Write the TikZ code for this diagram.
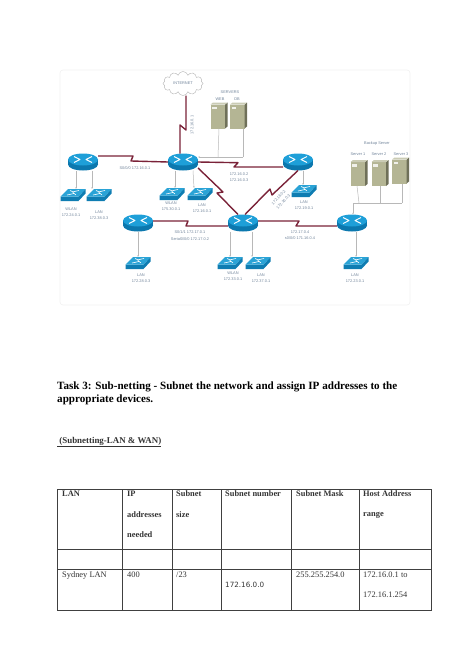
\documentclass[tikz,border=0pt]{standalone}
\usepackage{fontspec}
\setmainfont{Liberation Serif}
\setsansfont{Liberation Sans}
\newfontfamily\dvfont{DejaVu Sans}
\usetikzlibrary{positioning,arrows.meta,calc,shapes.symbols}

\definecolor{rtrtop}{HTML}{1E9FD8}
\definecolor{rtrbase}{HTML}{0C78AE}
\definecolor{swttop}{HTML}{2AA3D6}
\definecolor{swtbase}{HTML}{0F7DB2}
\definecolor{srvfront}{HTML}{B4B594}
\definecolor{srvside}{HTML}{6F7059}
\definecolor{wancol}{HTML}{7A2238}
\definecolor{lblcol}{HTML}{71849A}

\begin{document}
\begin{tikzpicture}[
  x=1pt, y=-1pt,
  lbl/.style={font=\sffamily\fontsize{3.9}{6.3}\selectfont, text=lblcol, inner sep=0pt, align=center},
  head/.style={font=\bfseries\fontsize{11.1}{13}\selectfont, anchor=north west, inner sep=0pt, align=left},
  cell/.style={font=\fontsize{8.4}{10}\selectfont, text=black!80, anchor=west, inner sep=0pt},
  cellb/.style={cell, font=\bfseries\fontsize{8.4}{10}\selectfont},
  wanedge/.style={draw=wancol, line width=1.4pt, line join=round},
  lanedge/.style={draw=black!28, line width=0.5pt},
  lantip/.style={lanedge, -{Latex[length=1.6pt,width=1.6pt]}},
  tabline/.style={draw=black!75, line width=1pt},
  cld/.style={cloud, cloud puffs=12, aspect=1.8, draw=black!30, line width=0.4pt, inner sep=0pt,
    minimum width=40pt, minimum height=24pt, font=\sffamily\fontsize{3.9}{5}\selectfont, text=lblcol},
  rtr/.style={minimum width=30pt, minimum height=17pt, inner sep=0pt, outer sep=0pt, path picture={
    \begin{scope}[shift={(path picture bounding box.center)}]
      \fill[rtrbase] (0,2.5) ellipse [x radius=15, y radius=6];
      \fill[rtrbase] (-15,-2.5) rectangle (15,2.5);
      \fill[rtrtop] (0,-2.5) ellipse [x radius=15, y radius=6];
      \draw[white, line width=0.9pt, line join=round] (-9,-5.5) -- (-3,-2.5) -- (-9,0.5);
      \draw[white, line width=0.9pt, line join=round] (9,-5.5) -- (3,-2.5) -- (9,0.5);
    \end{scope}}},
  swt/.style={minimum width=25pt, minimum height=12pt, inner sep=0pt, outer sep=0pt, path picture={
    \begin{scope}[shift={(path picture bounding box.center)}]
      \fill[swtbase] (-12.5,1.5) -- (5.5,1.5) -- (12.5,-6) -- (12.5,-1.5) -- (5.5,6) -- (-12.5,6) -- cycle;
      \fill[swttop] (-12.5,1.5) -- (-5,-6) -- (12.5,-6) -- (5.5,1.5) -- cycle;
      \draw[white, line width=0.6pt] (-6,0) -- (1,-1.5) (6,-4.5) -- (-1,-3) (-3,-4.5) -- (0,-3.2) (3,0) -- (0,-2.5);
    \end{scope}}},
  srv/.style={minimum width=17pt, minimum height=26pt, inner sep=0pt, outer sep=0pt, path picture={
    \begin{scope}[shift={(path picture bounding box.center)}]
      \fill[srvfront] (-8.5,-11) rectangle (6,13);
      \fill[srvside] (6,-11) -- (8.5,-13) -- (8.5,11) -- (6,13) -- cycle;
      \fill[srvfront!70!white] (-8.5,-11) -- (-6,-13) -- (8.5,-13) -- (6,-11) -- cycle;
      \fill[white!80!srvfront] (-7,-9) rectangle (-2.5,-6.5);
    \end{scope}}}
]
\useasboundingbox (0,0) rectangle (474,669);

% panel round the network
\draw[black!6, line width=0.6pt, rounded corners=3pt] (60,70) rectangle (410,305);

% devices
\node[cld] (inet) at (183,83.5) {INTERNET};
\node[rtr] (rbris) at (83,162) {};
\node[rtr] (rsyd) at (183,162) {};
\node[rtr] (rtop) at (298,162) {};
\node[rtr] (rleft) at (138,223) {};
\node[rtr] (rctr) at (243,223) {};
\node[rtr] (rback) at (352,223) {};
\node[swt] (swa) at (73,195) {};
\node[swt] (swb) at (99,195) {};
\node[swt] (swc) at (172,194) {};
\node[swt] (swd) at (200,194) {};
\node[swt] (swe) at (304,191) {};
\node[swt] (swf) at (138,263) {};
\node[swt] (swg) at (230,263) {};
\node[swt] (swh) at (258,263) {};
\node[swt] (swi) at (356,263) {};
\node[srv] (srvweb) at (219,115.5) {};
\node[srv] (srvdb) at (238.5,115.5) {};
\node[srv] (srvone) at (359,173) {};
\node[srv] (srvtwo) at (380,173) {};
\node[srv] (srvthree) at (400.5,170.5) {};
\coordinate (busweb) at (218,157);
\coordinate (busdb) at (243,157);
\coordinate (busback) at (353,203);
\coordinate (busend) at (402,203);

% serial links
\draw[wanedge] ([xshift=3pt]inet.south) -- (186,130) -- (180,125) -- ([xshift=-3pt]rsyd.north);
\draw[wanedge] ([yshift=6pt]rbris.east) -- (133,156) -- (131,161) -- (rsyd.west);
\draw[wanedge] (rsyd.east) -- (238,162.7) -- (234,167) -- ([yshift=-5pt]rtop.west);
\draw[wanedge] ([yshift=2.5pt]rsyd.south east) -- (223,192) -- (217,193) -- ([xshift=-5pt]rctr.north);
\draw[wanedge] (rtop.south) -- (272,195) -- (270,189) -- ([xshift=2pt]rctr.north);
\draw[wanedge] ([yshift=2pt]rleft.east) -- (188,221) -- (186,226) -- ([yshift=-3pt]rctr.west);
\draw[wanedge] ([yshift=2pt]rctr.east) -- (299,221) -- (296,226) -- ([yshift=-3pt]rback.west);

% ethernet links
\draw[lantip] ([xshift=-7pt]rbris.south) -- ([xshift=3pt]swa.north);
\draw[lantip] ([xshift=9pt]rbris.south) -- ([xshift=-7pt]swb.north);
\draw[lantip] ([xshift=-8pt]rsyd.south) -- ([xshift=3pt]swc.north);
\draw[lantip] ([xshift=10pt]rsyd.south) -- ([xshift=-6pt]swd.north);
\draw[lantip] ([xshift=5pt]rtop.south) -- ([xshift=-1pt]swe.north);
\draw[lantip] (rleft.south) -- (swf.north);
\draw[lantip] ([xshift=-13pt]rctr.south) -- ([xshift=0pt]swg.north);
\draw[lantip] ([xshift=9pt]rctr.south) -- ([xshift=-6pt]swh.north);
\draw[lantip] ([xshift=4pt]rback.south) -- (swi.north);
\draw[lanedge] (srvweb.south) -- (busweb);
\draw[lanedge] ([xshift=4.5pt]srvdb.south) -- (busdb);
\draw[lantip] (busdb) -- ([yshift=5pt]rsyd.east);
\draw[lanedge] ([xshift=-2pt]srvone.south) -- (srvone.south |- busback);
\draw[lanedge] (srvtwo.south) -- (srvtwo.south |- busback);
\draw[lanedge] ([xshift=1.5pt]srvthree.south) -- (busend);
\draw[lanedge] (busback) -- (busend);
\draw[lantip] (busback) -- ([xshift=1pt]rback.north);

% network labels
\node[lbl, rotate=90] (lblinet) at (192,125) {172.16.0.1};
\node[lbl] (lblsrv) at (230,92) {SERVERS};
\node[lbl] (lblweb) at (220,99) {WEB};
\node[lbl] (lbldb) at (237,99) {DB};
\node[lbl] (lblbris) at (135,168) {S0/0/0 172.16.0.1};
\node[lbl] (lblsyd) at (239,177) {172.16.0.2\\172.16.0.3};
\node[lbl, rotate=48] (lbldiag) at (281,199.5) {172.16.0.2\\172.16.0.3};
\node[lbl] (lbla) at (71,212) {WLAN\\172.24.0.1};
\node[lbl] (lblb) at (99,215) {LAN\\172.38.0.3};
\node[lbl] (lblc) at (171,206.5) {WLAN\\175.30.0.1};
\node[lbl] (lbld) at (202,208) {LAN\\172.16.0.1};
\node[lbl] (lble) at (304,205) {LAN\\172.19.0.1};
\node[lbl] (lblf) at (141,278) {LAN\\172.28.0.3};
\node[lbl] (lblg) at (233,276) {WLAN\\172.33.0.1};
\node[lbl] (lblh) at (261,278) {LAN\\172.37.0.1};
\node[lbl] (lbli) at (355,278) {LAN\\172.23.0.1};
\node[lbl] (lblleft) at (190,235.5) {S0/1/1 172.17.0.1\\Serial0/0/0 172.17.0.2};
\node[lbl] (lblright) at (300,235.5) {172.17.0.4\\s0/0/0 171.16.0.4};
\node[lbl] (lblback) at (377,143) {Backup Server};
\node[lbl] (lblone) at (358,154) {Server 1};
\node[lbl] (lbltwo) at (379,154) {Server 2};
\node[lbl] (lblthree) at (401,154) {Server 3};

% document text
\node[head] (task) at (57,382) {Task 3: Sub-netting - Subnet the network and assign IP addresses to the\\appropriate devices.};
\node[cellb, anchor=base west, font=\bfseries\fontsize{8.9}{10}\selectfont] (subhead) at (57,443) {\underline{\ (Subnetting-LAN \& WAN)}};

% table
\draw[tabline] (57,489) rectangle (431,610);
\draw[tabline] (57,549) -- (431,549);
\draw[tabline] (57,569) -- (431,569);
\draw[tabline] (122,489) -- (122,610);
\draw[tabline] (172,489) -- (172,610);
\draw[tabline] (221,489) -- (221,610);
\draw[tabline] (291,489) -- (291,610);
\draw[tabline] (359,489) -- (359,610);

\node[cellb] (clan) at (62,494) {LAN};
\node[cellb] (cipa) at (127,494) {IP};
\node[cellb] (cipb) at (127,515) {addresses};
\node[cellb] (cipc) at (127,535) {needed};
\node[cellb] (csza) at (176,494) {Subnet};
\node[cellb] (cszb) at (176,515) {size};
\node[cellb] (cnum) at (225,494) {Subnet number};
\node[cellb] (cmask) at (296,494) {Subnet Mask};
\node[cellb] (chosta) at (363,494) {Host Address};
\node[cellb] (chostb) at (363,515) {range};
\node[cell] (dlan) at (62,575) {Sydney LAN};
\node[cell] (dip) at (127,575) {400};
\node[cell] (dsz) at (176,575) {/23};
\node[cell, font=\dvfont\fontsize{7.2}{9}\selectfont] (dnum) at (225,585) {172.16.0.0};
\node[cell] (dmask) at (296,575) {255.255.254.0};
\node[cell] (dhosta) at (363,575) {172.16.0.1 to};
\node[cell] (dhostb) at (363,595) {172.16.1.254};

\end{tikzpicture}
\end{document}
